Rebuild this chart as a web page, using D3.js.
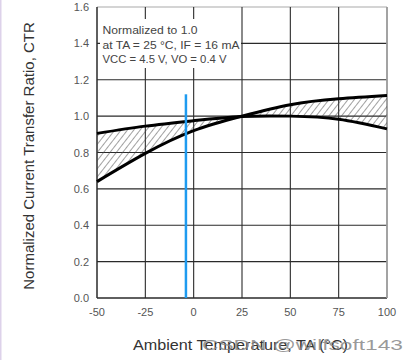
<!DOCTYPE html>
<html><head><meta charset="utf-8">
<script src="https://cdn.jsdelivr.net/npm/d3@7"></script>
<style>body{margin:0;background:#fff}svg{display:block}</style>
</head><body>
<script>
// ---- data ----
const temps = [-50, -25, 0, 25, 50, 75, 100];
const ctrFlat = [0.905, 0.945, 0.975, 0.998, 1.0, 0.983, 0.93];
const ctrSteep = [0.64, 0.795, 0.92, 1.0, 1.063, 1.095, 1.113];
const xTicks = [-50, -25, 0, 25, 50, 75, 100];
const yTicks = [0, 0.2, 0.4, 0.6, 0.8, 1.0, 1.2, 1.4, 1.6];
const markerTemp = -4;
const markerTop = 1.12;
const noteLines = ["Normalized to 1.0", "at TA = 25 °C, IF = 16 mA", "VCC = 4.5 V, VO = 0.4 V"];
const xTitle = "Ambient Temperature, TA (°C)";
const yTitle = "Normalized Current Transfer Ratio, CTR";
const watermark = "CSDN @wilfsoft143";

const W = 419, H = 360;
const font = "'Liberation Sans', Arial, sans-serif";
const svg = d3.select("body").append("svg").attr("width", W).attr("height", H);

svg.append("rect").attr("x", 0).attr("y", 0).attr("width", 1.5).attr("height", H).attr("fill", "#ddd2ea");

const x = d3.scaleLinear().domain([-50, 100]).range([97, 387]);
const y = d3.scaleLinear().domain([0, 1.6]).range([298, 7]);

const defs = svg.append("defs");
const pat = defs.append("pattern").attr("id", "hatch").attr("patternUnits", "userSpaceOnUse")
  .attr("width", 5).attr("height", 5).attr("patternTransform", "rotate(38)");
pat.append("line").attr("x1", 0).attr("y1", 0).attr("x2", 0).attr("y2", 5)
  .attr("stroke", "#444").attr("stroke-width", 1);

// grid
const g = svg.append("g");
yTicks.forEach(t => {
  g.append("line").attr("x1", x(-50)).attr("x2", x(100)).attr("y1", y(t)).attr("y2", y(t))
    .attr("stroke", t === 1.6 ? "#aaa" : "#2a2a2a").attr("stroke-width", t === 0 ? 1.5 : 1.1);
});
xTicks.forEach(t => {
  g.append("line").attr("x1", x(t)).attr("x2", x(t)).attr("y1", y(0)).attr("y2", y(1.6))
    .attr("stroke", t === 100 ? "#999" : "#2a2a2a").attr("stroke-width", t === 100 ? 1.8 : (t === -50 ? 1.5 : 1.1));
});

// note box (white background covering the grid)
svg.append("rect").attr("x", 100).attr("y", 19).attr("width", 141).attr("height", 49).attr("fill", "#fff");
const noteY = [34, 48.5, 63];
const noteW = [95, 137, 124];
noteLines.forEach((s, i) => {
  svg.append("text").attr("x", 102.5).attr("y", noteY[i]).attr("font-family", font)
    .attr("font-size", 11.5).attr("fill", "#444").attr("textLength", noteW[i])
    .attr("lengthAdjust", "spacingAndGlyphs").text(s);
});

// hatched band
const pts = temps.map((t, i) => ({t, a: ctrFlat[i], b: ctrSteep[i]}));
const area = d3.area().x(d => x(d.t)).y0(d => y(d.a)).y1(d => y(d.b)).curve(d3.curveNatural);
svg.append("path").datum(pts).attr("d", area).attr("fill", "url(#hatch)");

const lineA = d3.line().x(d => x(d.t)).y(d => y(d.a)).curve(d3.curveNatural);
const lineB = d3.line().x(d => x(d.t)).y(d => y(d.b)).curve(d3.curveNatural);
svg.append("path").datum(pts).attr("d", lineA).attr("fill", "none").attr("stroke", "#000").attr("stroke-width", 3);
svg.append("path").datum(pts).attr("d", lineB).attr("fill", "none").attr("stroke", "#000").attr("stroke-width", 3);

// marker
svg.append("line").attr("x1", x(markerTemp)).attr("x2", x(markerTemp)).attr("y1", y(markerTop)).attr("y2", y(0))
  .attr("stroke", "#1e9bf0").attr("stroke-width", 2.5);

// tick labels
xTicks.forEach(t => {
  svg.append("text").attr("x", x(t)).attr("y", 316).attr("text-anchor", "middle")
    .attr("font-family", font).attr("font-size", 11).attr("fill", "#555").text(t);
});
yTicks.forEach(t => {
  svg.append("text").attr("x", 89).attr("y", y(t) + 4).attr("text-anchor", "end")
    .attr("font-family", font).attr("font-size", 11).attr("fill", "#555").text(t.toFixed(1));
});

// titles
svg.append("text").attr("transform", "translate(34,156) rotate(-90)").attr("text-anchor", "middle")
  .attr("font-family", font).attr("font-size", 15).attr("fill", "#333").text(yTitle);
svg.append("text").attr("x", 133).attr("y", 350).attr("font-family", font).attr("font-size", 15)
  .attr("fill", "#333").attr("textLength", 215).attr("lengthAdjust", "spacingAndGlyphs").text(xTitle);
svg.append("text").attr("x", 202).attr("y", 350).attr("font-family", font).attr("font-size", 15)
  .attr("fill", "#888").attr("fill-opacity", 0.85).attr("textLength", 201).attr("lengthAdjust", "spacingAndGlyphs").text(watermark);
</script>
</body></html>
